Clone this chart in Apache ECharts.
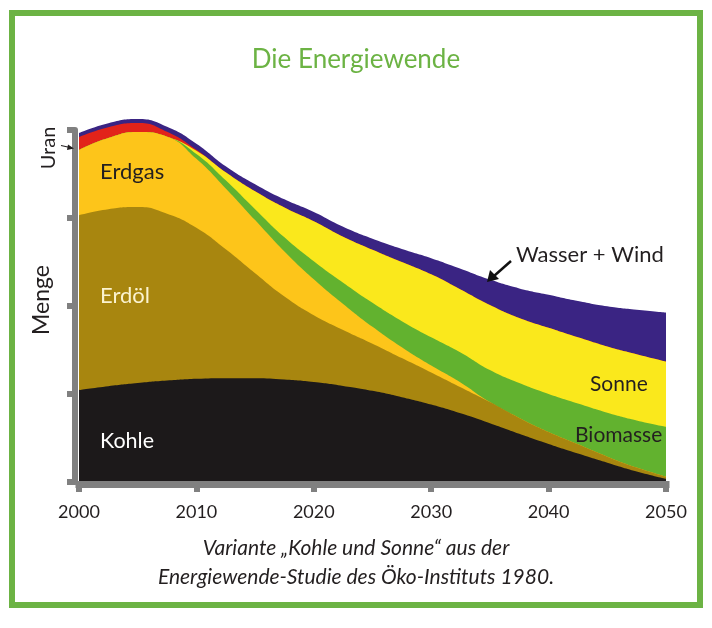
<!DOCTYPE html>
<html>
<head>
<meta charset="utf-8">
<script src="https://cdn.jsdelivr.net/npm/echarts@6/dist/echarts.min.js"></script>
<style>
  html, body { margin: 0; padding: 0; background: #ffffff; }
  #chart { width: 712px; height: 628px; }
</style>
</head>
<body>
<div id="chart"></div>
<script>
// ---- Data (Menge, arbitrary units; top axis tick = 100) ----
var years     = [2000, 2002.5, 2005, 2007.5, 2010, 2012.5, 2015, 2017.5, 2020, 2022.5, 2025, 2027.5, 2030, 2032.5, 2035, 2037.5, 2040, 2042.5, 2045, 2047.5, 2050];
var kohle     = [26.1, 27.2, 28.1, 28.8, 29.3, 29.5, 29.5, 29.1, 28.4, 27.3, 25.9, 24.1, 22.0, 19.5, 16.7, 13.7, 10.8, 8.1, 5.5, 3.0, 0.9];
var erdoel    = [49.7, 50.3, 50.0, 47.4, 42.9, 36.6, 29.8, 23.6, 19.0, 15.9, 13.4, 11.1, 9.1, 7.4, 6.0, 4.5, 3.4, 2.6, 1.7, 1.1, 0.6];
var erdgas    = [18.5, 20.2, 21.3, 21.9, 19.6, 17.3, 15.1, 12.8, 10.2, 7.4, 4.8, 3.1, 2.0, 1.4, 0, 0, 0, 0, 0, 0, 0];
var biomasse  = [0, 0, 0, 0, 1.4, 2.3, 3.1, 4.0, 5.1, 6.0, 6.8, 7.4, 8.0, 8.5, 9.1, 9.9, 10.8, 11.6, 12.5, 13.4, 14.2];
var sonne     = [0, 0, 0, 0, 0.9, 2.3, 5.1, 8.5, 11.4, 13.1, 15.1, 16.8, 17.9, 17.9, 18.5, 18.5, 18.8, 18.8, 18.8, 18.8, 18.5];
var uran      = [3.7, 3.1, 2.6, 1.4, 0.3, 0, 0, 0, 0, 0, 0, 0, 0, 0, 0, 0, 0, 0, 0, 0, 0];
var wasserWind= [1.1, 1.1, 1.1, 1.4, 1.7, 1.7, 2.0, 2.3, 2.6, 2.8, 3.1, 3.7, 4.6, 5.9, 7.2, 8.4, 9.4, 10.3, 11.4, 12.6, 13.9];

var seriesNames  = ['Kohle', 'Erdöl', 'Erdgas', 'Biomasse', 'Sonne', 'Uran', 'Wasser + Wind'];
var seriesValues = [kohle, erdoel, erdgas, biomasse, sonne, uran, wasserWind];
var seriesColors = ['#1c191a', '#a8860f', '#fdc51a', '#62b22f', '#fae81c', '#e2231a', '#3a2483'];

var xTickLabels = ['2000', '2010', '2020', '2030', '2040', '2050'];

// cumulative (stacked) totals, built from the arrays above
var running = years.map(function () { return 0; });
var cumulative = seriesValues.map(function (vals) {
  running = running.map(function (r, i) { return r + vals[i]; });
  return running.slice();
});

// draw the topmost cumulative layer first so lower layers paint over it
var series = [];
for (var k = seriesNames.length - 1; k >= 0; k--) {
  series.push({
    name: seriesNames[k],
    type: 'line',
    smooth: 0.5,
    clip: false,
    symbol: 'none',
    showSymbol: false,
    lineStyle: { width: 0 },
    areaStyle: { color: seriesColors[k], opacity: 1 },
    itemStyle: { color: seriesColors[k] },
    data: years.map(function (y, i) { return [y, cumulative[k][i]]; }),
    z: 2
  });
}

var FONT = 'Lato, "Noto Sans", sans-serif';
var GREEN = '#6cb344';
var DARK = '#231f20';
var GRAY = '#808080';

function text(x, y, str, opts) {
  opts = opts || {};
  return {
    type: 'text',
    x: x, y: y,
    rotation: opts.rotation || 0,
    z: 10,
    style: {
      text: str,
      fill: opts.color || DARK,
      font: (opts.style || 'normal') + ' ' + (opts.weight || 'normal') + ' ' + (opts.size || 19) + 'px ' + FONT,
      textAlign: opts.align || 'left',
      textVerticalAlign: 'middle'
    }
  };
}

var chart = echarts.init(document.getElementById('chart'), null, { renderer: 'canvas' });
chart.setOption({
  animation: false,
  backgroundColor: '#ffffff',
  grid: { left: 79, right: 46, top: 130, bottom: 146 },
  xAxis: {
    type: 'value',
    min: 2000, max: 2050, interval: 10,
    offset: 2,
    axisLine: { show: true, onZero: false, lineStyle: { color: GRAY, width: 7, cap: 'square' } },
    axisTick: { show: true, length: 8, lineStyle: { color: GRAY, width: 6 } },
    splitLine: { show: false },
    axisLabel: {
      margin: 19, fontSize: 18, color: DARK, fontFamily: FONT,
      formatter: function (v) { var s = String(v); return xTickLabels.indexOf(s) >= 0 ? s : ''; }
    },
    z: 5
  },
  yAxis: {
    type: 'value',
    min: 0, max: 100, interval: 25,
    offset: 4,
    axisLine: { show: true, lineStyle: { color: GRAY, width: 6 } },
    axisTick: { show: true, length: 8, lineStyle: { color: GRAY, width: 6 } },
    axisLabel: { show: false },
    splitLine: { show: false },
    z: 5
  },
  series: series,
  graphic: [
    { type: 'rect', z: 0, shape: { x: 12, y: 13, width: 688, height: 592 },
      style: { fill: 'none', stroke: GREEN, lineWidth: 6 } },
    text(356, 60, 'Die Energiewende', { color: GREEN, size: 26, align: 'center' }),
    text(356, 548, 'Variante \u201EKohle und Sonne\u201C aus der', { style: 'italic', size: 21, align: 'center' }),
    text(356, 577, 'Energiewende-Studie des \u00D6ko-Instituts 1980.', { style: 'italic', size: 21, align: 'center' }),
    text(42, 300, 'Menge', { size: 23, align: 'center', rotation: Math.PI / 2 }),
    text(49, 148, 'Uran', { size: 20, align: 'center', rotation: Math.PI / 2 }),
    { type: 'line', z: 10, shape: { x1: 61, y1: 145.5, x2: 70, y2: 147.5 }, style: { stroke: DARK, lineWidth: 1.2 } },
    { type: 'polygon', z: 10, shape: { points: [[74, 148.5], [68, 144.5], [67, 150]] }, style: { fill: DARK } },
    text(100, 172, 'Erdgas', { size: 22 }),
    text(100, 296, 'Erdöl', { size: 22, color: '#fbf3d0' }),
    text(100, 441, 'Kohle', { size: 21.5, color: '#ffffff' }),
    text(590, 384, 'Sonne', { size: 21 }),
    text(575, 435, 'Biomasse', { size: 21 }),
    text(516, 255, 'Wasser + Wind', { size: 22 }),
    { type: 'line', z: 10, shape: { x1: 511, y1: 261, x2: 494, y2: 276 }, style: { stroke: '#111', lineWidth: 2.5 } },
    { type: 'polygon', z: 10, shape: { points: [[487, 282], [490, 270], [499, 279]] }, style: { fill: '#111' } }
  ]
});
</script>
</body>
</html>
